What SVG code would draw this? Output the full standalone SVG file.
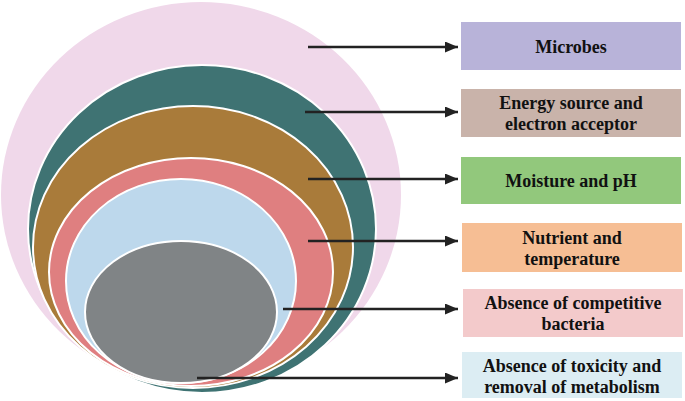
<svg xmlns="http://www.w3.org/2000/svg" width="685" height="401" viewBox="0 0 685 401">
<defs>
<style>
.ring{stroke:#ffffff;stroke-width:2}
.box{stroke:none}
.lbl{font-family:"Liberation Serif","Times New Roman",serif;font-weight:bold;font-size:18px;fill:#111111;text-anchor:middle}
.conn line{stroke:#222222;stroke-width:2.5}
</style>
<marker id="ah" markerWidth="13" markerHeight="11" refX="13" refY="5.5" orient="auto" markerUnits="userSpaceOnUse">
<path d="M0,0 L13,5.5 L0,11 Z" fill="#222222"/>
</marker>
</defs>
<rect width="685" height="401" fill="#ffffff"/>
<g id="rings">
<ellipse id="r1" cx="201" cy="195" rx="200" ry="193" fill="#f0d8ea"/>
<ellipse id="r2" class="ring" cx="202" cy="229" rx="174" ry="164" fill="#3f7373"/>
<ellipse id="r3" class="ring" cx="193" cy="247" rx="160" ry="141" fill="#a97b3a"/>
<ellipse id="r4" class="ring" cx="191" cy="272" rx="142" ry="114" fill="#df7f80"/>
<ellipse id="r5" class="ring" cx="181" cy="281" rx="115" ry="102" fill="#bdd8ec"/>
<ellipse id="r6" class="ring" cx="181" cy="312" rx="96" ry="71" fill="#808486"/>
</g>
<g id="connectors" class="conn">
<line x1="308" y1="47" x2="458" y2="47" marker-end="url(#ah)"/>
<line x1="305" y1="112" x2="458" y2="112" marker-end="url(#ah)"/>
<line x1="308" y1="179" x2="458" y2="179" marker-end="url(#ah)"/>
<line x1="308" y1="241" x2="458" y2="241" marker-end="url(#ah)"/>
<line x1="283" y1="309" x2="458" y2="309" marker-end="url(#ah)"/>
<line x1="197" y1="378" x2="458" y2="378" marker-end="url(#ah)"/>
</g>
<g id="n1"><rect class="box" x="461" y="22" width="220" height="48" fill="#b8b3d9"/><text class="lbl" x="571" y="53">Microbes</text></g>
<g id="n2"><rect class="box" x="461" y="89" width="220" height="48" fill="#c9b3aa"/><text class="lbl" x="571" y="109">Energy source and</text><text class="lbl" x="571" y="130">electron acceptor</text></g>
<g id="n3"><rect class="box" x="461" y="157" width="220" height="47" fill="#92c87c"/><text class="lbl" x="571" y="187">Moisture and pH</text></g>
<g id="n4"><rect class="box" x="462" y="223" width="220" height="49" fill="#f6be94"/><text class="lbl" x="572" y="244">Nutrient and</text><text class="lbl" x="572" y="265">temperature</text></g>
<g id="n5"><rect class="box" x="463" y="289" width="220" height="48" fill="#f3cacb"/><text class="lbl" x="573" y="309">Absence of competitive</text><text class="lbl" x="573" y="330">bacteria</text></g>
<g id="n6"><rect class="box" x="462" y="352" width="220" height="46" fill="#dcedf3"/><text class="lbl" x="572" y="372">Absence of toxicity and</text><text class="lbl" x="572" y="393">removal of metabolism</text></g>
</svg>
